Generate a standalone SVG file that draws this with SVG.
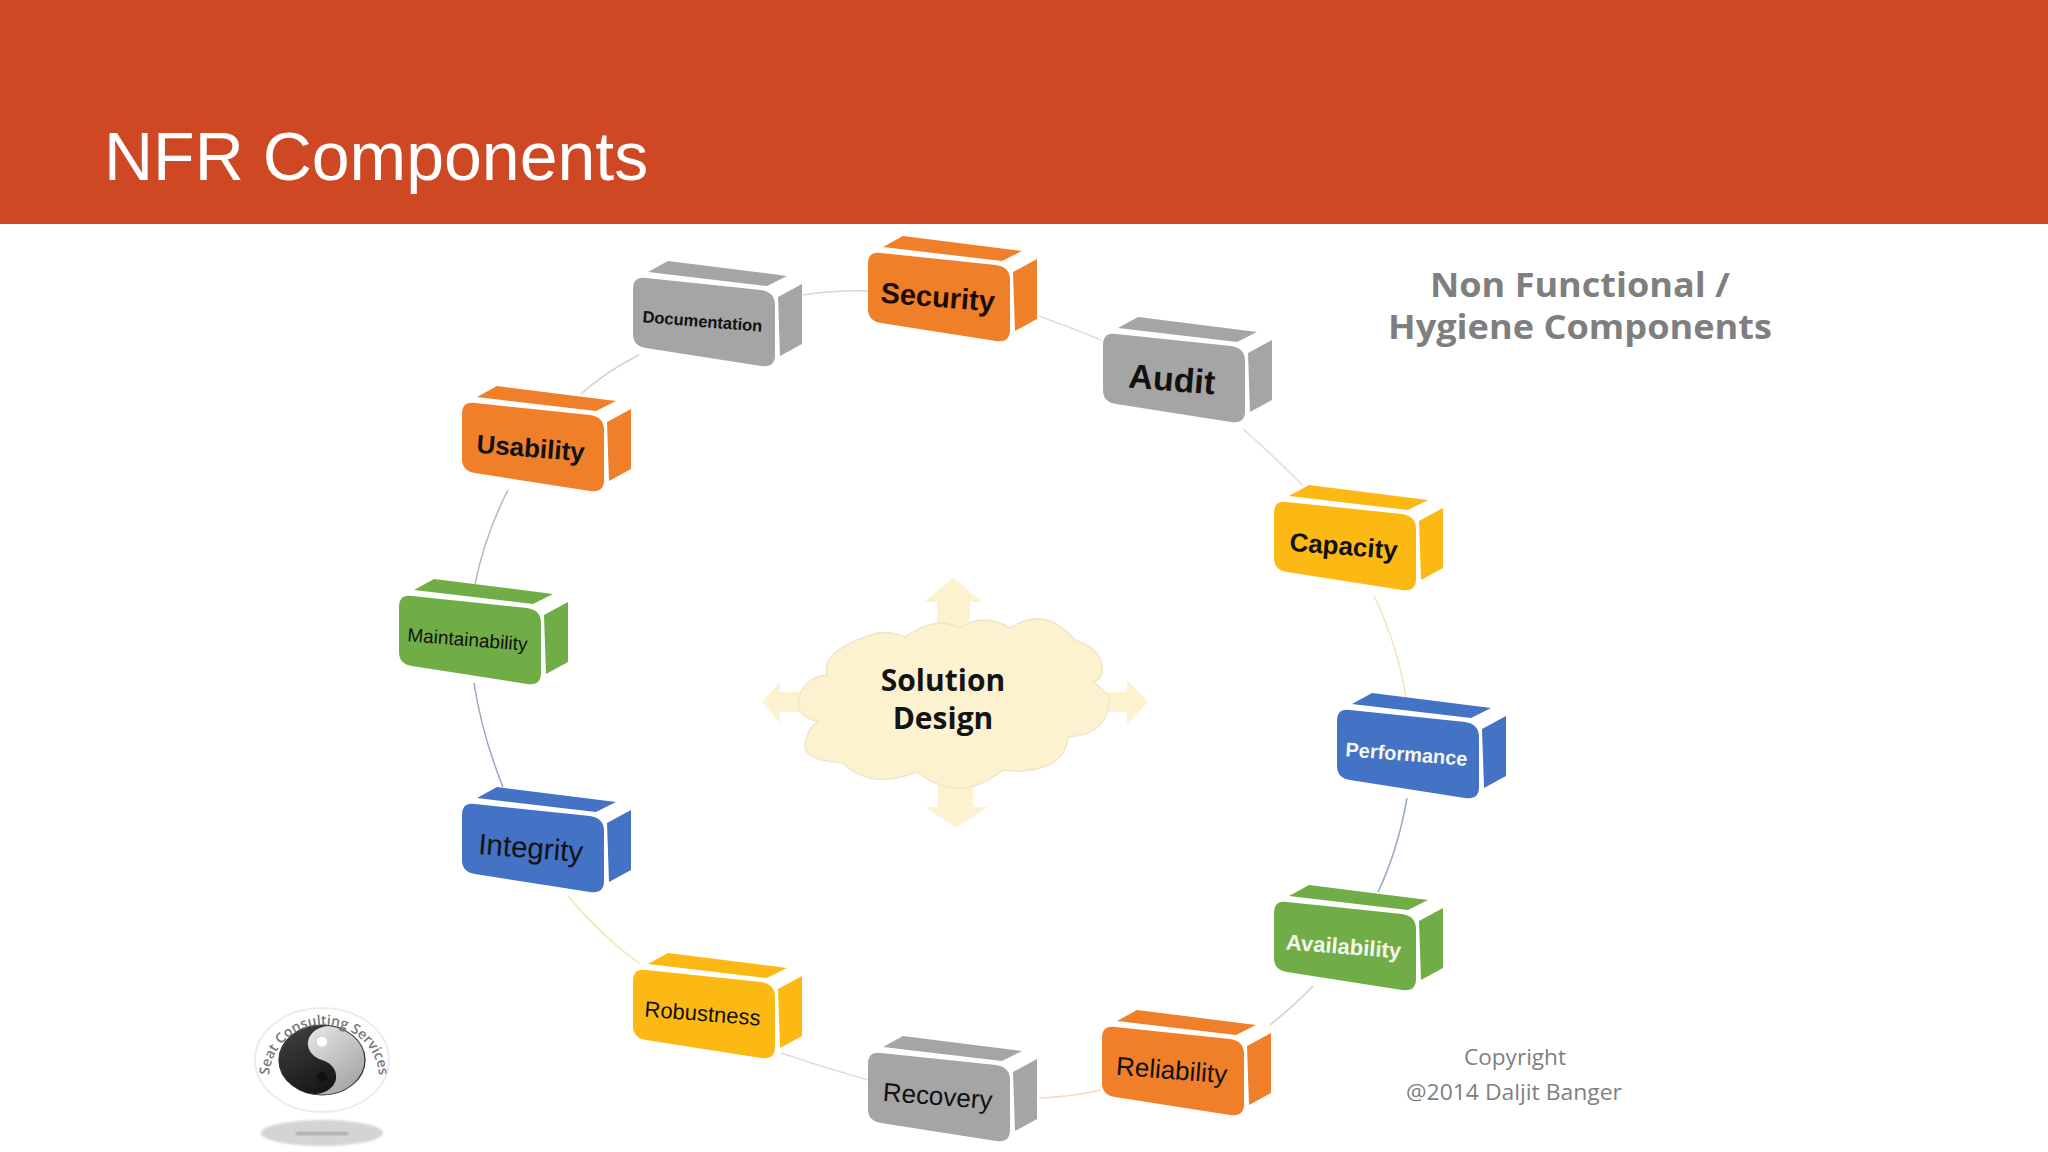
<svg xmlns="http://www.w3.org/2000/svg" width="2048" height="1152" viewBox="0 0 2048 1152">
<style>
.lbl{font-family:"Liberation Sans",Arial,sans-serif;text-anchor:middle;fill:#111}
.b{font-weight:700}
.w{fill:#f4f8ee}
.head{font-family:"Open Sans","Noto Sans",sans-serif;text-anchor:middle;fill:#7f7f7f}
.ring{fill:none;stroke-width:1.5}
.or{fill:#f07f2a}.gy{fill:#a5a5a5}.yl{fill:#fdb913}.bl{fill:#4472c4}.gn{fill:#70ad47}
</style>
<defs>
<g id="box">
<path d="M35,0 L154,15 L134,25 L15,11Z"/>
<path d="M145,36 L169,23 L169,83 L147,95Z"/>
<path d="M0,28 Q0,15 13,17 L128,29 Q142,31 142,44 L142,94 Q142,107 128,105 L13,87 Q0,85 0,73Z"/>
</g>
<filter id="soft" x="-20%" y="-20%" width="140%" height="140%"><feGaussianBlur stdDeviation="1.2"/></filter>
<linearGradient id="yin" x1="0" y1="0" x2="1" y2="1"><stop offset="0" stop-color="#f8f8f8"/><stop offset="1" stop-color="#9a9a9a"/></linearGradient>
<linearGradient id="yang" x1="0" y1="0" x2="1" y2="1"><stop offset="0" stop-color="#444"/><stop offset="1" stop-color="#111"/></linearGradient>
<path id="logoArc" d="M269,1078 A54,52 0 0 1 379,1078"/>
</defs>

<rect id="background" width="2048" height="1152" fill="#fff"/>
<rect id="header" width="2048" height="224" fill="#cf4824"/>
<text id="title" x="104" y="180" font-family="'Liberation Sans',Arial,sans-serif" font-size="68" fill="#fff">NFR Components</text>

<g id="connectors">
<path class="ring" stroke="#d8d8d8" d="M803,295 Q838,290 869,291"/>
<path class="ring" stroke="#dedede" d="M1039,316 Q1070,327 1101,340"/>
<path class="ring" stroke="#dedede" d="M1243,429 Q1275,457 1303,486"/>
<path class="ring" stroke="#f4e4b4" d="M1374,596 Q1400,650 1407,706"/>
<path class="ring" stroke="#98a8c8" d="M1407,798 Q1398,850 1378,892"/>
<path class="ring" stroke="#c8d8b8" d="M1313,986 Q1295,1005 1270,1025"/>
<path class="ring" stroke="#f6d8bc" d="M1101,1090 Q1070,1097 1039,1098"/>
<path class="ring" stroke="#dedede" d="M868,1080 Q825,1068 781,1053"/>
<path class="ring" stroke="#f4e4b4" d="M640,964 Q600,935 568,896"/>
<path class="ring" stroke="#98a8c8" d="M503,787 Q482,735 474,683"/>
<path class="ring" stroke="#b8b8b8" d="M475,584 Q485,535 508,490"/>
<path class="ring" stroke="#dcd0c4" d="M581,394 Q605,372 639,355"/>
</g>

<g id="solution-design">
<g fill="#fdf2d0">
<path d="M953,578 L983,602 L970,602 L970,640 L937,640 L937,602 L924,602Z"/>
<path d="M1148,702 L1127,725 L1127,712 L1100,712 L1100,692 L1127,692 L1127,680Z"/>
<path d="M762,702 L780,682 L780,692 L810,692 L810,712 L780,712 L780,723Z"/>
<path d="M956,828 L925,807 L938,807 L938,765 L973,765 L973,807 L988,807Z"/>
</g>
<path fill="#fdf2d0" stroke="#efe6c8" stroke-width="1.5" d="M799,700 A30,27 0 0 1 827,675 Q820,650 877,633 Q890,631 905,637 Q935,615 960,628 Q985,612 1010,628 Q1045,605 1075,640 Q1105,650 1102,673 Q1100,680 1093,682 Q1112,695 1109,705 Q1105,735 1068,737 Q1065,770 1017,771 Q1010,771 1003,770 Q960,805 917,772 Q870,790 843,763 Q795,760 807,737 Q808,728 818,722 Q795,715 799,700Z"/>
<text class="head" x="943" y="691" font-size="30" font-weight="700" style="fill:#141414">Solution</text>
<text class="head" x="943" y="729" font-size="30" font-weight="700" style="fill:#141414">Design</text>
</g>

<g id="security" class="or" transform="translate(868 236)"><use href="#box"/><text class="lbl b" transform="translate(69 71) rotate(4.5)" font-size="29" style="fill:#1c0c08">Security</text></g>
<g id="audit" class="gy" transform="translate(1103 317)"><use href="#box"/><text class="lbl b" transform="translate(68 74) rotate(4.5)" font-size="34">Audit</text></g>
<g id="capacity" class="yl" transform="translate(1274 485)"><use href="#box"/><text class="lbl b" transform="translate(69 70) rotate(4.5)" font-size="26">Capacity</text></g>
<g id="performance" class="bl" transform="translate(1337 693)"><use href="#box"/><text class="lbl b w" transform="translate(69 68) rotate(4.5)" font-size="20">Performance</text></g>
<g id="availability" class="gn" transform="translate(1274 885)"><use href="#box"/><text class="lbl b w" transform="translate(69 69) rotate(4.5)" font-size="22">Availability</text></g>
<g id="reliability" class="or" transform="translate(1102 1010)"><use href="#box"/><text class="lbl" transform="translate(69 69) rotate(4.5)" font-size="26">Reliability</text></g>
<g id="recovery" class="gy" transform="translate(868 1036)"><use href="#box"/><text class="lbl" transform="translate(69 69) rotate(4.5)" font-size="26">Recovery</text></g>
<g id="robustness" class="yl" transform="translate(633 953)"><use href="#box"/><text class="lbl" transform="translate(69 68) rotate(4.5)" font-size="22">Robustness</text></g>
<g id="integrity" class="bl" transform="translate(462 787)"><use href="#box"/><text class="lbl" transform="translate(68 71) rotate(4.5)" font-size="29.5">Integrity</text></g>
<g id="maintainability" class="gn" transform="translate(399 579)"><use href="#box"/><text class="lbl" transform="translate(68 67) rotate(4.5)" font-size="19">Maintainability</text></g>
<g id="usability" class="or" transform="translate(462 386)"><use href="#box"/><text class="lbl b" transform="translate(68 71) rotate(4.5)" font-size="26">Usability</text></g>
<g id="documentation" class="gy" transform="translate(633 261)"><use href="#box"/><text class="lbl b" transform="translate(69 66) rotate(4.5)" font-size="16.5">Documentation</text></g>

<g id="caption">
<text class="head" x="1580" y="297" font-size="34" font-weight="700" textLength="300" lengthAdjust="spacingAndGlyphs">Non Functional /</text>
<text class="head" x="1580" y="339" font-size="34" font-weight="700" textLength="384" lengthAdjust="spacingAndGlyphs">Hygiene Components</text>
</g>
<g id="copyright">
<text class="head" x="1515" y="1065" font-size="22" textLength="102" lengthAdjust="spacingAndGlyphs">Copyright</text>
<text class="head" x="1514" y="1100" font-size="22" textLength="216" lengthAdjust="spacingAndGlyphs">@2014 Daljit Banger</text>
</g>

<g id="logo">
<ellipse cx="322" cy="1060" rx="67" ry="52" fill="#fff" stroke="#ececec" stroke-width="2"/>
<ellipse cx="322" cy="1133" rx="61" ry="13" fill="#d4d4d4" filter="url(#soft)"/>
<rect x="296" y="1132" width="52" height="3" fill="#a8a8a8" filter="url(#soft)"/>
<g transform="translate(322 1060) scale(43 35)">
<circle r="1" fill="url(#yin)" stroke="#333" stroke-width=".03"/>
<path transform="rotate(20)" fill="url(#yang)" d="M0,-1 A1,1 0 0 0 0,1 A.5,.5 0 0 0 0,0 A.5,.5 0 0 1 0,-1Z"/>
<ellipse cx="0" cy="-.52" rx=".12" ry=".14" fill="#fff"/>
<ellipse cx="0" cy=".48" rx=".12" ry=".14" fill="#111"/>
</g>
<text font-family="'Open Sans','Noto Sans',sans-serif" font-size="14" font-weight="600" fill="#777"><textPath href="#logoArc" startOffset="50%" text-anchor="middle">Seat Consulting Services</textPath></text>
</g>
</svg>
